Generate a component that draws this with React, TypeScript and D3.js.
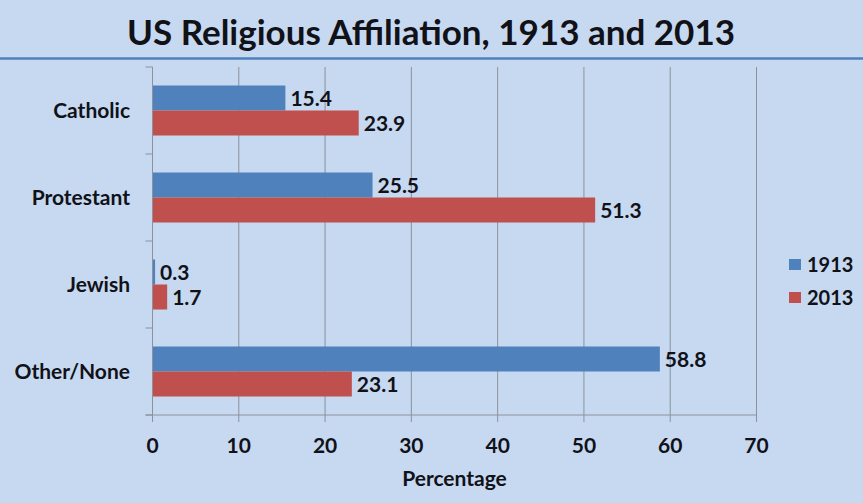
import React from "react";
import { scaleLinear, scaleBand, range } from "d3";

const categories = ["Catholic", "Protestant", "Jewish", "Other/None"];
const series = ["1913", "2013"];
const values1913 = [15.4, 25.5, 0.3, 58.8];
const values2013 = [23.9, 51.3, 1.7, 23.1];
const xTicks = [0, 10, 20, 30, 40, 50, 60, 70];

const colors: Record<string, string> = { "1913": "#4f81bd", "2013": "#c0504d" };
const FONT = "Lato, 'Open Sans', sans-serif";
const LABEL = 21;

export default function App() {
  const width = 863;
  const height = 503;
  const top = 67;
  const bottom = 415;

  const x = scaleLinear().domain([0, 70]).range([152.5, 756.5]);
  const y = scaleBand().domain(categories).range([top, bottom]).padding(0);
  const inner = scaleBand().domain(series).range([0, y.bandwidth()]).paddingOuter(0.74).paddingInner(0);

  const data = series.map((s) => ({
    key: s,
    values: s === "1913" ? values1913 : values2013,
  }));

  const textColor = "#111118";

  return (
    <svg
      width={width}
      height={height}
      style={{ position: "absolute", left: 0, top: 0, background: "#c6d9f0" }}
      fontFamily={FONT}
    >
      <rect width={width} height={height} fill="#c6d9f0" />
      {/* title */}
      <text x={431} y={45} textAnchor="middle" fontSize={35} fontWeight="bold" fill={textColor}>
        US Religious Affiliation, 1913 and 2013
      </text>
      <line x1={0} x2={width} y1={58.5} y2={58.5} stroke="#4f81bd" strokeWidth={2.5} />

      {/* gridlines */}
      {xTicks.slice(1).map((t) => (
        <line key={t} x1={x(t)} x2={x(t)} y1={top} y2={bottom} stroke="#8b929c" strokeWidth={1} />
      ))}

      {/* bars */}
      {data.map((s) =>
        s.values.map((v, i) => {
          const yy = (y(categories[i]) ?? 0) + (inner(s.key) ?? 0);
          return (
            <g key={s.key + i}>
              <rect x={x(0)} y={yy} width={x(v) - x(0)} height={inner.bandwidth()} fill={colors[s.key]} />
              <text
                x={x(v) + 5}
                y={yy + inner.bandwidth() / 2}
                dy="0.36em"
                fontSize={LABEL}
                fontWeight="bold"
                fill={textColor}
              >
                {v.toFixed(1)}
              </text>
            </g>
          );
        })
      )}

      {/* y axis */}
      <line x1={x(0)} x2={x(0)} y1={top} y2={bottom} stroke="#8b929c" />
      {range(categories.length + 1).map((i) => {
        const yy = top + i * y.step();
        return <line key={i} x1={x(0) - 7} x2={x(0)} y1={yy} y2={yy} stroke="#8b929c" />;
      })}
      {categories.map((c) => (
        <text
          key={c}
          x={130}
          y={(y(c) ?? 0) + y.bandwidth() / 2}
          dy="0.36em"
          textAnchor="end"
          fontSize={LABEL}
          fontWeight="bold"
          fill={textColor}
        >
          {c}
        </text>
      ))}

      {/* x axis */}
      <line x1={x(0) - 7} x2={x(70)} y1={bottom} y2={bottom} stroke="#8b929c" />
      {xTicks.map((t) => (
        <g key={t}>
          <line x1={x(t)} x2={x(t)} y1={bottom} y2={bottom + 7} stroke="#8b929c" />
          <text x={x(t)} y={445} dy="0.36em" textAnchor="middle" fontSize={LABEL} fontWeight="bold" fill={textColor}>
            {t}
          </text>
        </g>
      ))}
      <text x={(x(0) + x(70)) / 2} y={478} dy="0.36em" textAnchor="middle" fontSize={LABEL} fontWeight="bold" fill={textColor}>
        Percentage
      </text>

      {/* legend */}
      {series.map((s, i) => (
        <g key={s} transform={`translate(789, ${259 + i * 33})`}>
          <rect width={12} height={11} fill={colors[s]} />
          <text x={18} y={5.5} dy="0.36em" fontSize={LABEL - 1} fontWeight="bold" fill={textColor}>
            {s}
          </text>
        </g>
      ))}
    </svg>
  );
}
